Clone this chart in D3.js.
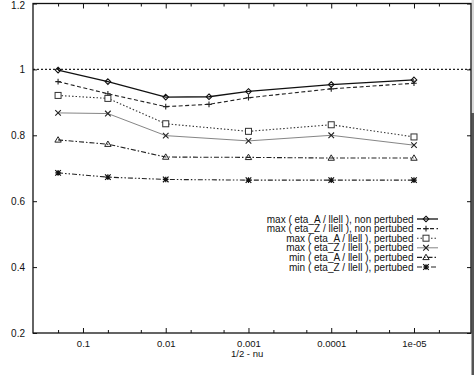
<!DOCTYPE html>
<html><head><meta charset="utf-8">
<script src="https://cdn.jsdelivr.net/npm/d3@7"></script>
<style>body{margin:0;background:#fff}svg{display:block}text{font-family:"Liberation Sans",Arial,sans-serif;fill:#111}</style>
</head><body>
<svg id="c" width="474" height="375"></svg>
<script>
const xLong = [0.2, 0.05, 0.01, 0.003, 0.001, 0.0001, 0.00001];
const xShort = [0.2, 0.05, 0.01, 0.001, 0.0001, 0.00001];
const maxANon = [0.998, 0.963, 0.916, 0.917, 0.933, 0.954, 0.968];
const maxZNon = [0.963, 0.926, 0.887, 0.894, 0.914, 0.941, 0.958];
const maxAPert = [0.921, 0.912, 0.835, 0.812, 0.832, 0.795];
const maxZPert = [0.868, 0.866, 0.799, 0.783, 0.800, 0.770];
const minAPert = [0.786, 0.773, 0.734, 0.733, 0.731, 0.731];
const minZPert = [0.686, 0.673, 0.666, 0.664, 0.664, 0.664];
const xTickValues = [0.1, 0.01, 0.001, 0.0001, 0.00001];
const xTickLabels = ["0.1", "0.01", "0.001", "0.0001", "1e-05"];
const yTickValues = [0.2, 0.4, 0.6, 0.8, 1.0, 1.2];
const yTickLabels = ["0.2", "0.4", "0.6", "0.8", "1", "1.2"];
const legendLabels = [
  "max ( eta_A / llell ), non pertubed",
  "max ( eta_Z / llell ), non pertubed",
  "max ( eta_A / llell ), pertubed",
  "max ( eta_Z / llell ), pertubed",
  "min ( eta_A / llell ), pertubed",
  "min ( eta_Z / llell ), pertubed"
];
const xLabel = "1/2 - nu";

const L = 33, R = 471, T = 3.5, B = 333;
const svg = d3.select("#c");
const x = d3.scaleLog().domain([Math.pow(10, -0.396), Math.pow(10, -5.689)]).range([L, R]);
const y = d3.scaleLinear().domain([0.2, 1.2]).range([B, T]);

// scan artifact strip on right
svg.append("rect").attr("x", 471.5).attr("y", 0).attr("width", 3).attr("height", 113).attr("fill", "#d8d8d8");
svg.append("rect").attr("x", 471.5).attr("y", 113).attr("width", 3).attr("height", 262).attr("fill", "#555");

const series = [
  {xs: xLong, ys: maxANon, dash: null, w: 1.3, col: "#111", sym: "diamond"},
  {xs: xLong, ys: maxZNon, dash: "4,2.5", w: 1.1, col: "#222", sym: "plus"},
  {xs: xShort, ys: maxAPert, dash: "1.5,2", w: 1.1, col: "#333", sym: "square"},
  {xs: xShort, ys: maxZPert, dash: null, w: 0.8, col: "#666", sym: "cross"},
  {xs: xShort, ys: minAPert, dash: "5,2,1.5,2", w: 1.1, col: "#222", sym: "triangle"},
  {xs: xShort, ys: minZPert, dash: "5,2,1.5,2,1.5,2", w: 1.1, col: "#222", sym: "star"}
];

function marker(g, sym, cx, cy, col) {
  const s = 2.8;
  if (sym === "diamond") {
    g.append("path").attr("d", `M${cx},${cy-s}L${cx+s},${cy}L${cx},${cy+s}L${cx-s},${cy}Z`).attr("fill", "none").attr("stroke", col).attr("stroke-width", 1.1);
  } else if (sym === "plus") {
    g.append("path").attr("d", `M${cx-s},${cy}H${cx+s}M${cx},${cy-s}V${cy+s}`).attr("stroke", col).attr("stroke-width", 1.1);
  } else if (sym === "square") {
    g.append("rect").attr("x", cx-3).attr("y", cy-3).attr("width", 6).attr("height", 6).attr("fill", "#fff").attr("stroke", col).attr("stroke-width", 1);
  } else if (sym === "cross") {
    g.append("path").attr("d", `M${cx-s},${cy-s}L${cx+s},${cy+s}M${cx-s},${cy+s}L${cx+s},${cy-s}`).attr("stroke", "#222").attr("stroke-width", 1.1);
  } else if (sym === "triangle") {
    g.append("path").attr("d", `M${cx},${cy-3.2}L${cx+3.2},${cy+2.2}L${cx-3.2},${cy+2.2}Z`).attr("fill", "none").attr("stroke", col).attr("stroke-width", 1);
  } else if (sym === "star") {
    g.append("path").attr("d", `M${cx-s},${cy-s}L${cx+s},${cy+s}M${cx-s},${cy+s}L${cx+s},${cy-s}M${cx-s},${cy}H${cx+s}M${cx},${cy-s}V${cy+s}`).attr("stroke", "#111").attr("stroke-width", 1.2);
  }
}

// reference y=1 line
svg.append("line").attr("x1", L).attr("x2", R).attr("y1", y(1)).attr("y2", y(1))
  .attr("stroke", "#222").attr("stroke-width", 1.3).attr("stroke-dasharray", "2,2");

const line = d3.line();
series.forEach(s => {
  const pts = s.xs.map((v, i) => [x(v), y(s.ys[i])]);
  svg.append("path").attr("d", line(pts)).attr("fill", "none").attr("stroke", s.col)
    .attr("stroke-width", s.w).attr("stroke-dasharray", s.dash);
  const g = svg.append("g");
  pts.forEach(p => marker(g, s.sym, p[0], p[1], s.col));
});

// frame
svg.append("rect").attr("x", L).attr("y", T).attr("width", R - L).attr("height", B - T)
  .attr("fill", "none").attr("stroke", "#111").attr("stroke-width", 1.3);

// x ticks
const minor = [];
for (let e = -6; e <= 0; e++) { [2, 5].forEach(m => { const v = m * Math.pow(10, e); if (v < x.domain()[0] && v > x.domain()[1]) minor.push(v); }); }
const axB = d3.axisBottom(x).tickValues(xTickValues).tickSize(-5).tickPadding(7).tickFormat((d, i) => xTickLabels[i]);
const gB = svg.append("g").attr("transform", `translate(0,${B})`).call(axB);
const axT = d3.axisTop(x).tickValues(xTickValues).tickSize(-5).tickFormat("");
const gT = svg.append("g").attr("transform", `translate(0,${T})`).call(axT);
const axBm = d3.axisBottom(x).tickValues(minor).tickSize(-3).tickFormat("");
const gBm = svg.append("g").attr("transform", `translate(0,${B})`).call(axBm);
const axTm = d3.axisTop(x).tickValues(minor).tickSize(-3).tickFormat("");
const gTm = svg.append("g").attr("transform", `translate(0,${T})`).call(axTm);
const axL = d3.axisLeft(y).tickValues(yTickValues).tickSize(-4).tickPadding(8).tickFormat((d, i) => yTickLabels[i]);
const gL = svg.append("g").attr("transform", `translate(${L},0)`).call(axL);
const axR = d3.axisRight(y).tickValues(yTickValues).tickSize(-4).tickFormat("");
const gR = svg.append("g").attr("transform", `translate(${R},0)`).call(axR);
[gB, gT, gBm, gTm, gL, gR].forEach(g => {
  g.select(".domain").remove();
  g.selectAll(".tick line").attr("stroke", "#111").attr("stroke-width", 1);
  g.selectAll("text").attr("font-size", 10).attr("fill", "#111").attr("font-family", "Liberation Sans, Arial, sans-serif");
});
gB.selectAll("text").attr("font-size", 9.5);
// keep the top label inside the picture
gL.selectAll(".tick text").filter((d) => d === 1.2).attr("dy", "0.75em").attr("y", 0).attr("transform", "translate(0,-3)");

svg.append("text").attr("x", 231).attr("y", 356.5).attr("font-size", 9.5).text(xLabel);

// legend
const lg = svg.append("g");
series.forEach((s, i) => {
  const yy = 219 + i * 9.6;
  lg.append("text").attr("x", 413.5).attr("y", yy).attr("dy", "0.35em").attr("text-anchor", "end")
    .attr("font-size", 10).text(legendLabels[i]);
  lg.append("line").attr("x1", 417).attr("x2", 438).attr("y1", yy).attr("y2", yy)
    .attr("stroke", s.col).attr("stroke-width", s.w).attr("stroke-dasharray", s.dash);
  marker(lg, s.sym, 426, yy, s.col);
});
</script>
</body></html>
